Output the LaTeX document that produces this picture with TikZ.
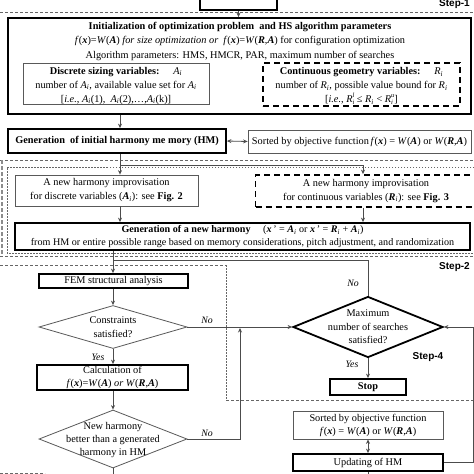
\documentclass[tikz,border=0pt]{standalone}
\usepackage{fontspec}
\setmainfont{Liberation Serif}
\newfontfamily\stepfont{Liberation Sans}
\usetikzlibrary{shapes.geometric,arrows.meta}
\newcommand\mybi[1]{\textbf{\textit{#1}}}
\newcommand\sbi{\textsubscript{\textit{i}}}
\newcommand\stk[1]{\raisebox{-0.45ex}{\fontsize{6.5}{6}\selectfont\shortstack[l]{\textit{#1}\\\textit{i}}}}
\tikzset{
 thinbox/.style={draw=black!65, line width=0.8pt, inner sep=0pt, align=center, font=\fontsize{10.3}{14}\selectfont},
 thickbox/.style={draw=black, line width=1.8pt, inner sep=0pt, align=center, font=\fontsize{10.3}{13}\selectfont},
 dashbox/.style={draw=black, line width=1.8pt, dash pattern=on 6pt off 4pt, inner sep=0pt, align=center, font=\fontsize{10.3}{14}\selectfont},
 txt/.style={inner sep=0pt, align=center, font=\fontsize{10.3}{14}\selectfont},
 conn/.style={draw=black!70, line width=0.8pt},
 arr/.style={conn, -{Stealth[length=4.5pt,width=4pt]}},
 darr/.style={conn, {Stealth[length=4.5pt,width=4pt]}-{Stealth[length=4.5pt,width=4pt]}},
 sepline/.style={draw=black!60, line width=0.9pt, dash pattern=on 3pt off 2pt},
 dotline/.style={draw=black!60, line width=0.8pt, dash pattern=on 1.5pt off 1.5pt},
 steplbl/.style={inner sep=0pt, font=\stepfont\bfseries\fontsize{10}{12}\selectfont},
 lbl/.style={inner sep=0pt, font=\itshape\fontsize{9.8}{11}\selectfont},
 thindia/.style={diamond, draw=black!65, line width=0.8pt, inner sep=0pt},
 thickdia/.style={diamond, draw=black, line width=1.8pt, inner sep=0pt},
}
\begin{document}
\begin{tikzpicture}[x=1pt,y=-1pt]
\clip (0,0) rectangle (474,474);
\fill[white] (0,0) rectangle (474,474);

% separators and frames
\draw[sepline] (0,12) -- (474,12);
\draw[sepline] (0,160) -- (474,160);
\draw[draw=black!45, line width=2pt, dash pattern=on 4pt off 2pt] (2,160) -- (2,256.5);
\draw[dotline] (480,167) -- (7,167) -- (7,253) -- (480,253);
\draw[sepline] (0,256.5) -- (474,256.5);
\draw[sepline] (0,265) -- (226,265);
\draw[dotline] (226,265) -- (226,400);
\draw[sepline] (226,400) -- (474,400);
\draw[sepline] (0,473) -- (45,473);

\node[steplbl, anchor=east] (s1) at (470,4) {Step-1};
\node[steplbl, anchor=east] (s2) at (470,267) {Step-2};
\node[steplbl] (s4) at (428,357) {Step-4};

% step 1
\node[thickbox, minimum width=77pt, minimum height=24pt] (top) at (238.5,-2) {};
\node[thickbox, minimum width=463pt, minimum height=96pt] (init) at (239.5,66) {};
\draw[arr] (top.south) -- (top.south |- init.north);
\node[txt, font=\fontsize{10.3}{14.5}\selectfont] (initt) at (240,41) {\textbf{Initialization of optimization problem \ and HS algorithm parameters}\\
\textit{f}(\mybi{x})=\textit{W}(\mybi{A}) \textit{for size optimization or \ f}(\mybi{x})=\textit{W}(\mybi{R},\mybi{A}) for configuration optimization\\
Algorithm parameters: HMS, HMCR, PAR, maximum number of searches};
\node[thinbox, minimum width=186pt, minimum height=41pt] (disc) at (116,83.5) {};
\node[txt] (disct) at (116,86) {\textbf{Discrete sizing variables:} \quad \textit{A}\sbi\\
number of \textit{A}\sbi, available value set for \textit{A}\sbi\\
{[}\textit{i.e.}, \textit{A}\sbi(1), \ \textit{A}\sbi(2),\dots,\textit{A}\sbi(k)]};
\node[dashbox, minimum width=197pt, minimum height=43pt] (cont) at (361.5,84.5) {};
\node[txt] (contt) at (361.5,86) {\textbf{Continuous geometry variables:} \quad \textit{R}\sbi\\
number of \textit{R}\sbi, possible value bound for \textit{R}\sbi\\
{[}\textit{i.e.}, \textit{R}\stk{l} ≤ \textit{R}\sbi{} < \textit{R}\stk{u}]};

\coordinate (xa) at (120,0);
\node[thickbox, minimum width=218pt, minimum height=24pt] (hm) at (117,141) {\textbf{Generation \ of initial harmony me mory (HM)}};
\node[thinbox, minimum width=223pt, minimum height=23pt] (sort1) at (359.5,141.5) {Sorted by objective function\,\textit{f}(\mybi{x}) = \textit{W}(\mybi{A}) or \textit{W}(\mybi{R},\mybi{A})};
\draw[arr] (init.south -| xa) -- (hm.north -| xa);
\draw[darr] (hm.east) -- (sort1.west);

% step 3
\node[thinbox, minimum width=183pt, minimum height=31pt] (dimp) at (106.5,190.5) {A new harmony improvisation\\ for discrete variables (\mybi{A}\sbi): see \textbf{Fig. 2}};
\node[dashbox, minimum width=221pt, minimum height=32pt] (cimp) at (366,191) {A new harmony improvisation\\ for continuous variables (\mybi{R}\sbi): see \textbf{Fig. 3}};
\coordinate (br1) at (120,165);
\coordinate (br2) at (363,165);
\draw[arr] (hm.south -| xa) -- (dimp.north -| xa);
\draw[arr] (br1) -- (br2) -- (br2 |- cimp.north);
\node[thickbox, minimum width=455pt, minimum height=27pt, font=\fontsize{10.1}{12.5}\selectfont] (gen) at (242.5,236.5) {\textbf{Generation of a new harmony} \quad (\mybi{x}\,' = \mybi{A}\sbi{} or \mybi{x}\,' = \mybi{R}\sbi{} + \mybi{A}\sbi)\\
from HM or entire possible range based on memory considerations, pitch adjustment, and randomization};
\draw[arr] (dimp.south -| xa) -- (gen.north -| xa);
\draw[arr] (cimp.south -| br2) -- (gen.north -| br2);

% step 2
\coordinate (xb) at (113,0);
\node[thickbox, minimum width=149pt, minimum height=14pt] (fem) at (113.5,281) {FEM structural analysis};
\draw[arr] (gen.south -| xb) -- (fem.north -| xb);
\node[thindia, minimum width=148pt, minimum height=43pt] (cons) at (113,327) {};
\node[txt, font=\fontsize{10.3}{13.5}\selectfont] (const) at (113,327) {Constraints\\ satisfied?};
\draw[arr] (fem.south -| xb) -- (cons.north);
\node[thickbox, minimum width=151pt, minimum height=25pt] (calc) at (112.5,377.5) {Calculation of\\ \textit{f}(\mybi{x})=\textit{W}(\mybi{A}) \textit{or W}(\mybi{R},\mybi{A})};
\draw[arr] (cons.south) -- (calc.north -| cons.south);
\node[lbl] (yes1) at (98,357) {Yes};
\node[thindia, minimum width=148pt, minimum height=58pt] (nh) at (113,439) {};
\node[txt, font=\fontsize{10.3}{13}\selectfont] (nht) at (113,440) {New harmony\\ better than a generated\\ harmony in HM};
\draw[arr] (calc.south -| nh.north) -- (nh.north);
\coordinate (nhb) at (113,474);
\draw[conn] (nh.south) -- (nhb);

% step 4
\node[thickdia, minimum width=150pt, minimum height=61pt] (maxd) at (368,327) {};
\node[txt, font=\fontsize{10.3}{13.5}\selectfont] (maxt) at (368,327) {Maximum\\ number of searches\\ satisfied?};
\draw[arr] (cons.east) -- (maxd.west);
\node[lbl] (no1) at (207,320) {No};
\coordinate (nhc) at (240,439);
\coordinate (nhup) at (240,328);
\draw[arr] (nh.east) -- (nhc) -- (nhup);
\node[lbl] (no2) at (207,433) {No};
\coordinate (lp1) at (368,260.5);
\coordinate (lp2) at (113,260.5);
\draw[conn] (maxd.north) -- (lp1) -- (lp2);
\node[lbl] (no3) at (353,283) {No};
\node[thickbox, minimum width=76pt, minimum height=16pt] (stop) at (368,387) {\textbf{Stop}};
\draw[arr] (maxd.south) -- (stop.north);
\node[lbl] (yes2) at (352,364) {Yes};

\node[thinbox, minimum width=150pt, minimum height=28pt, font=\fontsize{10.3}{13}\selectfont] (sort2) at (368,425) {Sorted by objective function\\ \textit{f}(\mybi{x}) = \textit{W}(\mybi{A}) or \textit{W}(\mybi{R},\mybi{A})};
\node[thickbox, minimum width=150pt, minimum height=17pt] (upd) at (368,462.5) {Updating of HM};
\draw[darr] (sort2.south) -- (upd.north);
\coordinate (ur1) at (473,462.5);
\coordinate (ur2) at (473,327);
\draw[arr] (upd.east) -- (ur1) -- (ur2) -- (maxd.east);
\coordinate (ub) at (368,474);
\draw[conn] (upd.south) -- (ub);
\end{tikzpicture}
\end{document}
